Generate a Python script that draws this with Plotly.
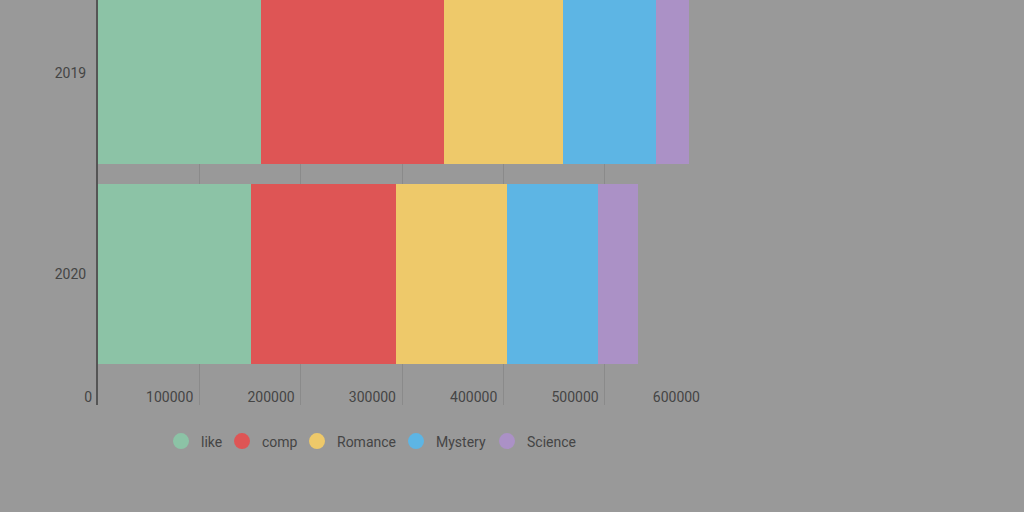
import plotly.graph_objects as go

years = ["2019", "2020"]
series_names = ["like", "comp", "Romance", "Mystery", "Science"]
like = [161000, 151100]
comp = [180700, 143200]
romance = [116800, 109600]
mystery = [91800, 89200]
science = [33300, 39900]
series_values = [like, comp, romance, mystery, science]
colors = ["#8cc3a6", "#de5555", "#eec96a", "#5db5e4", "#ab91c6"]
x_ticks = [0, 100000, 200000, 300000, 400000, 500000, 600000]

# legend entry positions (pixel x of each marker centre)
legend_px = [181, 242, 317, 416, 507]

fig = go.Figure()
for name, vals, col in zip(series_names, series_values, colors):
    fig.add_trace(go.Bar(
        y=years, x=vals, name=name, orientation="h",
        marker=dict(color=col, line=dict(width=0)),
        width=0.9, showlegend=False, hoverinfo="x+name",
    ))

plot_left, plot_w = 98, 608
legends = {}
for i, (name, col, px) in enumerate(zip(series_names, colors, legend_px)):
    key = "legend" if i == 0 else f"legend{i + 1}"
    fig.add_trace(go.Scatter(
        x=[None], y=[None], mode="markers", name=name, legend=key,
        marker=dict(color=col, size=18, symbol="circle"),
    ))
    legends[key] = dict(
        orientation="h", x=(px - 20 - plot_left) / plot_w, xanchor="left",
        y=-0.09, yanchor="middle",
        font=dict(size=14, color="#454545"), bgcolor="rgba(0,0,0,0)",
        itemclick=False, itemdoubleclick=False,
    )

fig.update_layout(
    width=1024, height=512,
    barmode="stack",
    paper_bgcolor="#999999", plot_bgcolor="#999999",
    margin=dict(l=plot_left, r=1024 - plot_left - plot_w, t=0, b=107),
    font=dict(family="Roboto", size=14, color="#454545"),
    xaxis=dict(
        range=[0, 600000], tickvals=x_ticks, showticklabels=False,
        showgrid=True, gridcolor="#8a8a8a", gridwidth=1,
        zeroline=False, showline=False, ticks="",
    ),
    xaxis2=dict(
        overlaying="x", matches="x", range=[0, 600000], anchor="free",
        position=0.045, side="bottom",
        tickvals=x_ticks, ticktext=[str(v) for v in x_ticks],
        ticklabelposition="outside left", ticklabelshift=-6,
        showgrid=False, zeroline=False, showline=False, ticks="",
        tickfont=dict(size=14, color="#454545"),
    ),
    yaxis=dict(
        type="category", categoryarray=years, categoryorder="array",
        range=[1.655, -0.366], showgrid=False, zeroline=False,
        showline=True, linecolor="#555555", linewidth=2,
        ticks="outside", ticklen=7, tickcolor="rgba(0,0,0,0)",
        tickfont=dict(size=14, color="#454545"),
    ),
    **legends,
)
fig.add_trace(go.Scatter(x=[None], y=[None], xaxis="x2", showlegend=False, hoverinfo="skip"))

fig.write_html("out.html")
